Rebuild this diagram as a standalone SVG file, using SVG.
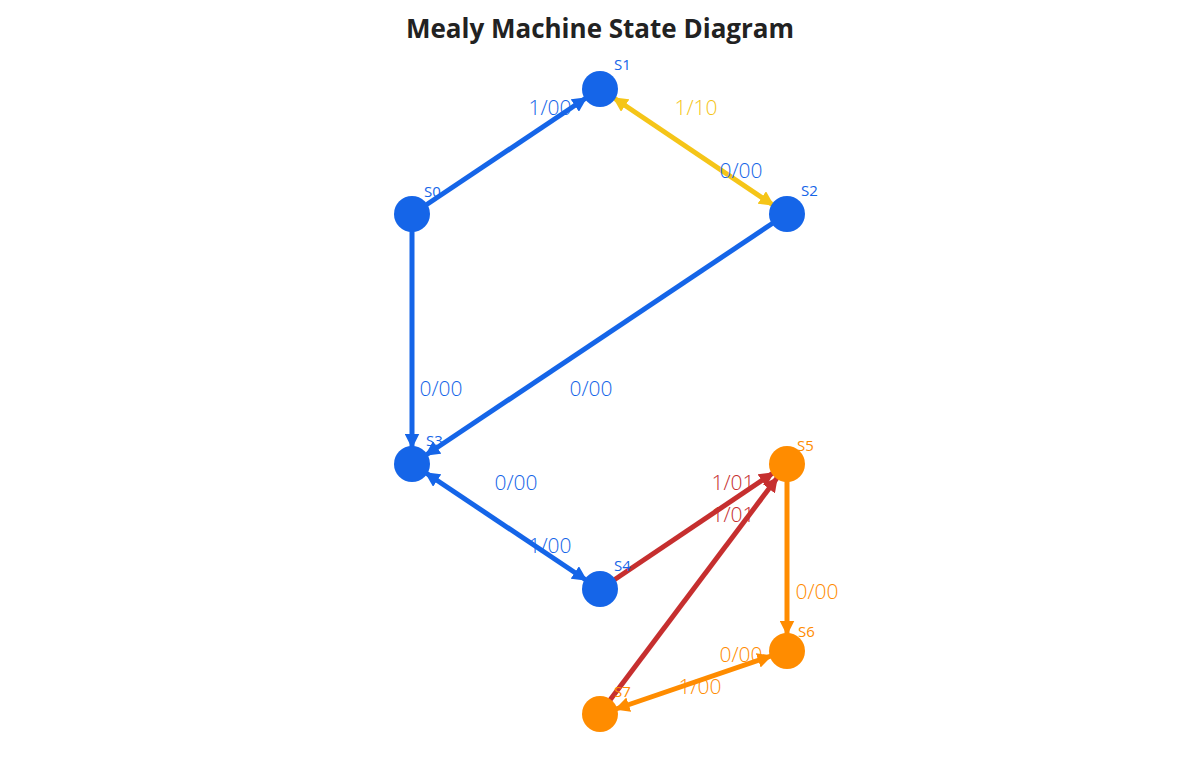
<svg xmlns="http://www.w3.org/2000/svg" width="1200" height="763" viewBox="0 0 1200 763">
<style>
.t{font-family:"Open Sans","Liberation Sans",sans-serif;font-weight:300;font-size:21px;text-anchor:middle}
.n{font-family:"Open Sans","Liberation Sans",sans-serif;font-size:15px}
.e{stroke-width:5;fill:none}
.b{fill:#1565e8;stroke:#1565e8}.y{stroke:#f5c518}.r{stroke:#c62f2f}.o{fill:#ff8c00;stroke:#ff8c00}
</style>
<defs>
<marker id="ab" viewBox="0 0 10 10" refX="9" refY="5" markerWidth="3" markerHeight="3" orient="auto-start-reverse"><path d="M0,0L10,5L0,10z" fill="#1565e8"/></marker>
<marker id="ay" viewBox="0 0 10 10" refX="9" refY="5" markerWidth="3" markerHeight="3" orient="auto-start-reverse"><path d="M0,0L10,5L0,10z" fill="#f5c518"/></marker>
<marker id="ar" viewBox="0 0 10 10" refX="9" refY="5" markerWidth="3" markerHeight="3" orient="auto-start-reverse"><path d="M0,0L10,5L0,10z" fill="#c62f2f"/></marker>
<marker id="ao" viewBox="0 0 10 10" refX="9" refY="5" markerWidth="3" markerHeight="3" orient="auto-start-reverse"><path d="M0,0L10,5L0,10z" fill="#ff8c00"/></marker>
</defs>
<rect width="1200" height="763" fill="#fff"/>
<text x="600" y="38" font-family="Open Sans,Liberation Sans,sans-serif" font-weight="700" font-size="26" text-anchor="middle" fill="#222">Mealy Machine State Diagram</text>
<g id="connectors">
<line class="e" stroke="#1565e8" x1="426" y1="205" x2="586" y2="98" marker-end="url(#ab)"/>
<line class="e y" x1="614" y1="98" x2="773" y2="205" marker-start="url(#ay)" marker-end="url(#ay)"/>
<line class="e" stroke="#1565e8" x1="412" y1="231" x2="412" y2="447" marker-end="url(#ab)"/>
<line class="e" stroke="#1565e8" x1="773" y1="223" x2="426" y2="455" marker-end="url(#ab)"/>
<line class="e" stroke="#1565e8" x1="426" y1="473" x2="586" y2="580" marker-start="url(#ab)" marker-end="url(#ab)"/>
<line class="e r" x1="614" y1="580" x2="773" y2="473" marker-end="url(#ar)"/>
<line class="e r" x1="610" y1="700" x2="777" y2="478" marker-end="url(#ar)"/>
<line class="e" stroke="#ff8c00" x1="787" y1="481" x2="787" y2="634" marker-end="url(#ao)"/>
<line class="e" stroke="#ff8c00" x1="616" y1="709" x2="771" y2="656" marker-start="url(#ao)" marker-end="url(#ao)"/>
<text class="t" x="550" y="115" fill="#1565e8">1/00</text>
<text class="t" x="696" y="115" fill="#f5c518">1/10</text>
<text class="t" x="741" y="178" fill="#1565e8">0/00</text>
<text class="t" x="441" y="396" fill="#1565e8">0/00</text>
<text class="t" x="591" y="396" fill="#1565e8">0/00</text>
<text class="t" x="516" y="490" fill="#1565e8">0/00</text>
<text class="t" x="550" y="553" fill="#1565e8">1/00</text>
<text class="t" x="733" y="490" fill="#c62f2f">1/01</text>
<text class="t" x="733" y="522" fill="#c62f2f">1/01</text>
<text class="t" x="817" y="599" fill="#ff8c00">0/00</text>
<text class="t" x="741" y="662" fill="#ff8c00">0/00</text>
<text class="t" x="700" y="694" fill="#ff8c00">1/00</text>
</g>
<g id="S0"><circle cx="412" cy="214" r="18" fill="#1565e8"/><text class="n" x="424" y="197" fill="#1565e8">S0</text></g>
<g id="S1"><circle cx="600" cy="89" r="18" fill="#1565e8"/><text class="n" x="614" y="70" fill="#1565e8">S1</text></g>
<g id="S2"><circle cx="787" cy="214" r="18" fill="#1565e8"/><text class="n" x="801" y="196" fill="#1565e8">S2</text></g>
<g id="S3"><circle cx="412" cy="464" r="18" fill="#1565e8"/><text class="n" x="426" y="446" fill="#1565e8">S3</text></g>
<g id="S4"><circle cx="600" cy="589" r="18" fill="#1565e8"/><text class="n" x="614" y="571" fill="#1565e8">S4</text></g>
<g id="S5"><circle cx="787" cy="464" r="18" fill="#ff8c00"/><text class="n" x="797" y="451" fill="#ff8c00">S5</text></g>
<g id="S6"><circle cx="787" cy="651" r="18" fill="#ff8c00"/><text class="n" x="798" y="637" fill="#ff8c00">S6</text></g>
<g id="S7"><circle cx="600" cy="714" r="18" fill="#ff8c00"/><text class="n" x="614" y="697" fill="#ff8c00">S7</text></g>
</svg>
